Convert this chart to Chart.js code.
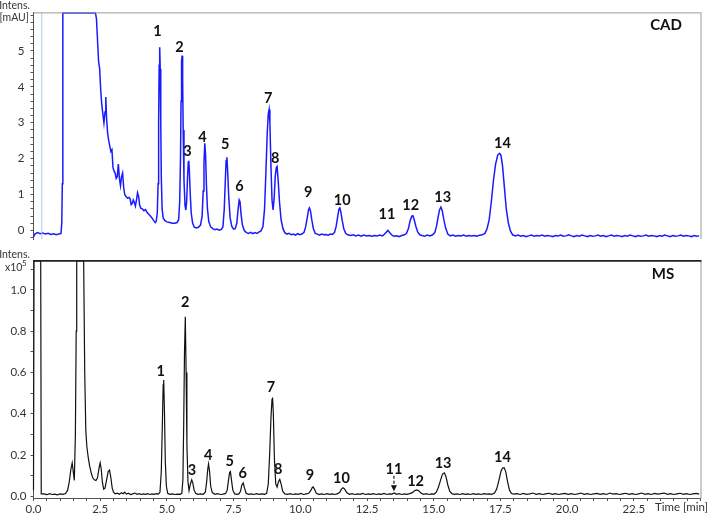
<!DOCTYPE html>
<html>
<head>
<meta charset="utf-8">
<script src="https://cdn.jsdelivr.net/npm/chart.js@4.4.1/dist/chart.umd.min.js"></script>
<style>
  html, body { margin: 0; padding: 0; background: #fff; }
  #wrap { position: relative; width: 710px; height: 515px; }
  .panel { position: absolute; left: 0; width: 710px; }
  #cadBox { top: 0; height: 252px; }
  #msBox { top: 250px; height: 265px; }
</style>
</head>
<body>
<div id="wrap">
  <div class="panel" id="cadBox"><canvas id="cad"></canvas></div>
  <div class="panel" id="msBox"><canvas id="ms"></canvas></div>
</div>
<script>
// CAD trace, [time (min), intensity (mAU)]
const cadTrace = [
  [0.00,-0.18],[0.05,-0.10],[0.15,-0.06],[0.25,-0.09],[0.35,-0.07],[0.45,-0.10],[0.55,-0.08],[0.65,-0.11],
  [0.75,-0.09],[0.85,-0.12],[0.95,-0.10],[1.03,-0.08],[1.06,0.2],[1.08,1.3],[1.10,6.06],[2.32,6.06],
  [2.36,5.9],[2.40,5.3],[2.44,4.7],[2.48,4.5],[2.52,3.9],[2.56,3.5],[2.60,3.25],[2.64,3.0],
  [2.68,3.3],[2.71,3.72],[2.74,3.1],[2.78,2.7],[2.82,2.5],[2.86,2.35],[2.90,2.2],[2.94,2.25],
  [2.98,1.75],[3.02,1.65],[3.06,1.6],[3.10,1.45],[3.14,1.5],[3.18,1.85],[3.22,1.45],[3.26,1.25],
  [3.30,1.5],[3.34,1.6],[3.38,1.2],[3.42,1.0],[3.46,0.95],[3.52,0.9],[3.58,0.92],[3.62,0.88],
  [3.66,0.72],[3.70,0.75],[3.74,0.85],[3.78,0.78],[3.82,0.68],[3.86,0.85],[3.90,1.05],[3.94,0.95],
  [3.98,0.7],[4.02,0.62],[4.08,0.6],[4.14,0.55],[4.20,0.58],[4.26,0.5],[4.32,0.45],[4.38,0.4],
  [4.44,0.35],[4.50,0.28],[4.56,0.22],[4.60,0.25],[4.64,0.5],[4.67,1.3],[4.69,3.0],[4.71,4.6],
  [4.73,5.1],[4.75,4.5],[4.77,3.0],[4.79,1.5],[4.82,0.6],[4.86,0.35],[4.92,0.28],[5.00,0.24],
  [5.10,0.22],[5.20,0.20],[5.30,0.20],[5.38,0.22],[5.44,0.3],[5.48,0.8],[5.51,2.0],[5.53,3.6],
  [5.55,4.7],[5.57,4.87],[5.59,4.2],[5.61,2.8],[5.64,1.4],[5.68,0.7],[5.71,0.57],[5.74,0.8],
  [5.77,1.4],[5.80,1.9],[5.82,1.94],[5.84,1.7],[5.87,1.1],[5.91,0.5],[5.96,0.22],[6.02,0.1],
  [6.10,0.07],[6.18,0.09],[6.26,0.15],[6.32,0.4],[6.36,1.1],[6.39,1.9],[6.42,2.43],[6.45,2.1],
  [6.48,1.3],[6.52,0.6],[6.57,0.25],[6.64,0.1],[6.72,0.05],[6.80,0.02],[6.88,0.04],[6.96,0.01],
  [7.04,0.03],[7.10,0.1],[7.15,0.6],[7.19,1.4],[7.22,1.95],[7.25,2.04],[7.28,1.6],[7.32,0.9],
  [7.37,0.35],[7.43,0.12],[7.50,0.04],[7.56,0.05],[7.62,0.2],[7.67,0.6],[7.71,0.85],[7.74,0.8],
  [7.78,0.45],[7.83,0.15],[7.90,0.0],[7.98,-0.06],[8.06,-0.08],[8.14,-0.05],[8.22,-0.09],[8.30,-0.06],
  [8.38,-0.08],[8.46,-0.04],[8.52,-0.02],[8.60,0.1],[8.66,0.6],[8.71,1.6],[8.76,2.7],[8.80,3.25],
  [8.83,3.37],[8.86,3.0],[8.90,1.8],[8.94,0.85],[8.98,0.57],[9.02,0.9],[9.06,1.5],[9.10,1.75],
  [9.13,1.78],[9.17,1.4],[9.22,0.8],[9.28,0.3],[9.35,0.05],[9.42,-0.06],[9.50,-0.10],[9.58,-0.08],
  [9.66,-0.12],[9.74,-0.10],[9.82,-0.13],[9.90,-0.09],[9.98,-0.12],[10.06,-0.10],[10.14,-0.05],[10.20,0.1],
  [10.26,0.35],[10.31,0.58],[10.34,0.63],[10.38,0.55],[10.43,0.3],[10.49,0.05],[10.56,-0.08],[10.64,-0.10],
  [10.72,-0.13],[10.80,-0.10],[10.88,-0.12],[10.96,-0.11],[11.04,-0.13],[11.12,-0.10],[11.20,-0.11],[11.28,-0.06],
  [11.34,0.1],[11.40,0.38],[11.45,0.6],[11.48,0.63],[11.52,0.52],[11.57,0.28],[11.63,0.05],[11.70,-0.08],
  [11.78,-0.12],[11.88,-0.14],[11.98,-0.12],[12.08,-0.15],[12.18,-0.13],[12.28,-0.16],[12.38,-0.13],[12.48,-0.15],
  [12.58,-0.14],[12.68,-0.16],[12.78,-0.14],[12.88,-0.15],[12.98,-0.13],[13.08,-0.15],[13.16,-0.10],[13.23,-0.04],
  [13.28,0.0],[13.34,-0.05],[13.42,-0.12],[13.50,-0.16],[13.60,-0.15],[13.70,-0.17],[13.80,-0.14],[13.90,-0.12],
  [13.98,-0.08],[14.05,0.05],[14.12,0.28],[14.18,0.4],[14.22,0.41],[14.27,0.3],[14.33,0.12],[14.40,-0.04],
  [14.48,-0.12],[14.56,-0.14],[14.66,-0.16],[14.76,-0.13],[14.86,-0.15],[14.96,-0.12],[15.04,-0.06],[15.10,0.1],
  [15.16,0.35],[15.22,0.58],[15.27,0.65],[15.32,0.55],[15.38,0.3],[15.45,0.06],[15.53,-0.10],[15.62,-0.15],
  [15.72,-0.13],[15.82,-0.16],[15.92,-0.14],[16.02,-0.15],[16.12,-0.13],[16.22,-0.16],[16.32,-0.14],[16.42,-0.15],
  [16.52,-0.14],[16.62,-0.16],[16.72,-0.13],[16.82,-0.12],[16.92,-0.08],[17.00,0.05],[17.08,0.3],[17.16,0.8],
  [17.24,1.4],[17.32,1.85],[17.40,2.1],[17.47,2.15],[17.52,2.1],[17.58,1.8],[17.65,1.2],[17.72,0.6],
  [17.80,0.2],[17.88,-0.02],[17.96,-0.12],[18.06,-0.15],[18.16,-0.13],[18.26,-0.16],[18.36,-0.14],[18.46,-0.17],
  [18.56,-0.15],[18.66,-0.13],[18.76,-0.16],[18.86,-0.14],[18.96,-0.15],[19.06,-0.13],[19.16,-0.16],[19.26,-0.14],
  [19.36,-0.15],[19.46,-0.17],[19.56,-0.14],[19.66,-0.15],[19.76,-0.13],[19.86,-0.16],[19.96,-0.15],[20.06,-0.12],
  [20.16,-0.15],[20.26,-0.17],[20.36,-0.14],[20.46,-0.16],[20.56,-0.13],[20.66,-0.15],[20.76,-0.17],[20.86,-0.14],
  [20.96,-0.16],[21.06,-0.15],[21.16,-0.13],[21.26,-0.16],[21.36,-0.14],[21.46,-0.17],[21.56,-0.15],[21.66,-0.13],
  [21.76,-0.16],[21.86,-0.14],[21.96,-0.15],[22.06,-0.17],[22.16,-0.14],[22.26,-0.16],[22.36,-0.13],[22.46,-0.15],
  [22.56,-0.17],[22.66,-0.14],[22.76,-0.16],[22.86,-0.15],[22.96,-0.13],[23.06,-0.16],[23.16,-0.14],[23.26,-0.15],
  [23.36,-0.17],[23.46,-0.14],[23.56,-0.16],[23.66,-0.13],[23.76,-0.15],[23.86,-0.17],[23.96,-0.14],[24.06,-0.16],
  [24.16,-0.15],[24.26,-0.13],[24.36,-0.16],[24.46,-0.14],[24.56,-0.15],[24.66,-0.17],[24.76,-0.14],[24.86,-0.16],
  [24.95,-0.15]
];

// MS trace, [time (min), intensity (x10^5)]
const msTrace = [
  [0.00,0.03],[0.02,1.14],[0.27,1.14],[0.29,0.012],[0.40,0.012],[0.50,0.008],[0.60,0.013],[0.70,0.009],
  [0.80,0.011],[0.90,0.007],[1.00,0.012],[1.10,0.010],[1.20,0.014],[1.28,0.03],[1.34,0.07],[1.40,0.13],
  [1.45,0.162],[1.49,0.12],[1.53,0.077],[1.57,0.3],[1.60,0.8],[1.62,1.14],[1.88,1.14],[1.92,0.6],
  [1.96,0.32],[2.00,0.24],[2.05,0.19],[2.10,0.15],[2.16,0.115],[2.22,0.09],[2.28,0.08],[2.34,0.077],
  [2.40,0.09],[2.46,0.14],[2.50,0.162],[2.54,0.13],[2.58,0.07],[2.63,0.035],[2.68,0.04],[2.74,0.08],
  [2.80,0.12],[2.85,0.127],[2.90,0.09],[2.95,0.04],[3.00,0.02],[3.06,0.012],[3.14,0.015],[3.22,0.010],
  [3.30,0.018],[3.36,0.013],[3.42,0.020],[3.48,0.011],[3.56,0.015],[3.64,0.009],[3.72,0.012],[3.80,0.016],
  [3.88,0.010],[3.96,0.013],[4.04,0.009],[4.12,0.012],[4.20,0.010],[4.28,0.013],[4.36,0.009],[4.44,0.012],
  [4.52,0.010],[4.60,0.013],[4.68,0.011],[4.74,0.02],[4.79,0.12],[4.83,0.35],[4.86,0.54],[4.88,0.563],
  [4.91,0.4],[4.94,0.17],[4.98,0.05],[5.03,0.015],[5.10,0.010],[5.20,0.012],[5.30,0.009],[5.40,0.011],
  [5.50,0.010],[5.56,0.015],[5.60,0.08],[5.63,0.35],[5.66,0.7],[5.69,0.869],[5.72,0.6],[5.75,0.25],
  [5.79,0.07],[5.83,0.028],[5.88,0.06],[5.93,0.08],[5.97,0.065],[6.02,0.03],[6.08,0.015],[6.16,0.010],
  [6.26,0.012],[6.36,0.010],[6.44,0.02],[6.49,0.07],[6.53,0.13],[6.56,0.157],[6.60,0.12],[6.64,0.05],
  [6.70,0.018],[6.80,0.010],[6.90,0.013],[7.00,0.009],[7.10,0.011],[7.20,0.014],[7.26,0.03],[7.31,0.08],
  [7.35,0.115],[7.38,0.12],[7.42,0.08],[7.47,0.03],[7.54,0.012],[7.62,0.010],[7.70,0.012],[7.76,0.025],
  [7.81,0.055],[7.86,0.065],[7.91,0.04],[7.97,0.015],[8.06,0.010],[8.16,0.012],[8.26,0.009],[8.36,0.013],
  [8.46,0.010],[8.56,0.012],[8.66,0.010],[8.74,0.015],[8.80,0.06],[8.85,0.2],[8.90,0.38],[8.94,0.47],
  [8.96,0.478],[8.99,0.4],[9.03,0.18],[9.08,0.06],[9.13,0.045],[9.18,0.07],[9.23,0.082],[9.28,0.06],
  [9.34,0.025],[9.42,0.012],[9.52,0.010],[9.62,0.013],[9.72,0.009],[9.82,0.012],[9.92,0.010],[10.02,0.014],
  [10.12,0.009],[10.22,0.012],[10.32,0.015],[10.40,0.03],[10.45,0.043],[10.48,0.046],[10.53,0.035],[10.60,0.015],
  [10.70,0.010],[10.80,0.012],[10.90,0.009],[11.00,0.013],[11.10,0.010],[11.20,0.012],[11.30,0.009],[11.40,0.013],
  [11.48,0.02],[11.54,0.035],[11.60,0.042],[11.66,0.036],[11.74,0.018],[11.84,0.010],[11.94,0.013],[12.04,0.009],
  [12.14,0.012],[12.24,0.010],[12.34,0.014],[12.44,0.009],[12.54,0.012],[12.64,0.010],[12.74,0.013],[12.84,0.009],
  [12.94,0.012],[13.04,0.010],[13.14,0.014],[13.24,0.009],[13.34,0.012],[13.44,0.011],[13.52,0.016],[13.60,0.010],
  [13.70,0.013],[13.80,0.009],[13.90,0.012],[14.00,0.010],[14.10,0.013],[14.20,0.018],[14.28,0.027],[14.36,0.031],
  [14.44,0.027],[14.52,0.016],[14.62,0.010],[14.72,0.013],[14.82,0.009],[14.92,0.012],[15.02,0.011],[15.10,0.02],
  [15.18,0.045],[15.26,0.08],[15.33,0.108],[15.40,0.114],[15.46,0.095],[15.53,0.055],[15.60,0.025],[15.68,0.013],
  [15.78,0.010],[15.88,0.012],[15.98,0.009],[16.08,0.013],[16.18,0.010],[16.28,0.012],[16.38,0.009],[16.48,0.013],
  [16.58,0.010],[16.68,0.012],[16.78,0.009],[16.88,0.013],[16.98,0.011],[17.08,0.012],[17.18,0.010],[17.28,0.016],
  [17.36,0.035],[17.44,0.075],[17.52,0.12],[17.58,0.137],[17.64,0.139],[17.70,0.12],[17.77,0.07],[17.84,0.03],
  [17.92,0.014],[18.00,0.011],[18.12,0.013],[18.24,0.009],[18.36,0.014],[18.48,0.010],[18.60,0.012],[18.72,0.016],
  [18.84,0.010],[18.96,0.013],[19.08,0.009],[19.20,0.012],[19.32,0.015],[19.44,0.010],[19.56,0.013],[19.68,0.009],
  [19.80,0.012],[19.92,0.014],[20.04,0.010],[20.16,0.013],[20.28,0.009],[20.40,0.012],[20.52,0.016],[20.64,0.010],
  [20.76,0.013],[20.88,0.009],[21.00,0.012],[21.12,0.014],[21.24,0.010],[21.36,0.013],[21.48,0.009],[21.60,0.016],
  [21.72,0.011],[21.84,0.013],[21.96,0.009],[22.08,0.012],[22.20,0.015],[22.32,0.010],[22.44,0.013],[22.56,0.009],
  [22.68,0.012],[22.80,0.016],[22.92,0.010],[23.04,0.013],[23.16,0.009],[23.28,0.014],[23.40,0.011],[23.52,0.013],
  [23.64,0.016],[23.76,0.010],[23.88,0.013],[24.00,0.009],[24.12,0.012],[24.24,0.015],[24.36,0.010],[24.48,0.013],
  [24.60,0.009],[24.72,0.012],[24.84,0.014],[24.95,0.011]
];

const peakNames = ['1','2','3','4','5','6','7','8','9','10','11','12','13','14'];
// where each number sits, in [time, intensity] of its own panel
const cadLabelAt = [
  [4.65,5.55],[5.47,5.11],[5.77,2.20],[6.33,2.59],[7.19,2.41],[7.72,1.23],[8.80,3.67],
  [9.06,2.02],[10.30,1.05],[11.57,0.84],[13.25,0.46],[14.14,0.69],[15.34,0.92],[17.58,2.43]
];
const msLabelAt = [
  [4.77,0.603],[5.69,0.937],[5.94,0.124],[6.55,0.200],[7.35,0.170],[7.84,0.113],[8.90,0.529],
  [9.17,0.131],[10.36,0.100],[11.54,0.085],[13.51,0.131],[14.32,0.075],[15.35,0.162],[17.58,0.188]
];
const msArrowTime = 13.51;
const injectionMark = 0.31;

const timeMin = 0, timeMax = 25;
const cadMin = -0.24, cadMax = 6.06;
const msMin = -0.008, msMax = 1.14;

const FONT = 'Lato, "Open Sans", sans-serif';
const axisColor = '#555';
const textColor = '#333';

const near = (v, step) => Math.abs(v / step - Math.round(v / step)) < 1e-6;

function toPoints(trace) {
  return trace.map(p => ({ x: p[0], y: p[1] }));
}

function framePlugin(topColor, topWidth) {
  return {
    id: 'frame',
    afterDatasetsDraw(chart) {
      const { ctx, chartArea: a } = chart;
      ctx.save();
      ctx.strokeStyle = '#999';
      ctx.lineWidth = 1;
      ctx.beginPath();
      ctx.moveTo(a.right + 0.5, a.top);
      ctx.lineTo(a.right + 0.5, a.bottom);
      ctx.stroke();
      ctx.strokeStyle = topColor;
      ctx.lineWidth = topWidth;
      ctx.beginPath();
      ctx.moveTo(a.left, a.top);
      ctx.lineTo(a.right + 1, a.top);
      ctx.stroke();
      ctx.restore();
    }
  };
}

function labelPlugin(labelAt, panelName, panelPos) {
  return {
    id: 'peakLabels',
    afterDraw(chart) {
      const { ctx } = chart;
      const xs = chart.scales.x, ys = chart.scales.y;
      ctx.save();
      ctx.fillStyle = '#111';
      ctx.font = 'bold 14.5px ' + FONT;
      ctx.textAlign = 'center';
      ctx.textBaseline = 'middle';
      labelAt.forEach((p, i) => {
        ctx.fillText(peakNames[i], xs.getPixelForValue(p[0]), ys.getPixelForValue(p[1]));
      });
      ctx.font = 'bold 15px ' + FONT;
      ctx.fillText(panelName, panelPos[0], panelPos[1]);
      ctx.restore();
    }
  };
}

// --- CAD panel ---
new Chart(document.getElementById('cad'), {
  type: 'line',
  data: {
    datasets: [
      {
        data: [{ x: injectionMark, y: cadMin }, { x: injectionMark, y: cadMax }],
        borderColor: '#a9cdf2', borderWidth: 1, pointRadius: 0
      },
      {
        data: toPoints(cadTrace),
        borderColor: '#1a1aff', borderWidth: 1.5, pointRadius: 0, tension: 0, clip: 2
      }
    ]
  },
  options: {
    responsive: true, maintainAspectRatio: false, animation: false,
    layout: { padding: { top: 3, right: 9.5, bottom: 3, left: 0 } },
    plugins: { legend: { display: false }, tooltip: { enabled: false } },
    scales: {
      x: { type: 'linear', min: timeMin, max: timeMax, display: false },
      y: {
        min: cadMin, max: cadMax,
        afterFit: s => { s.width = 33.5; },
        border: { color: axisColor },
        grid: { drawOnChartArea: false, tickLength: 3, color: axisColor },
        ticks: {
          stepSize: 0.2, includeBounds: false, autoSkip: false, padding: 6,
          color: textColor, font: { family: FONT, size: 11.5 },
          callback: v => (near(v, 1) && v >= 0 && v <= 5) ? String(Math.round(v)) : ''
        }
      }
    }
  },
  plugins: [
    framePlugin('#999', 1),
    labelPlugin(cadLabelAt, 'CAD', [666, 25]),
    {
      id: 'cadTitle',
      afterDraw(chart) {
        const ctx = chart.ctx;
        ctx.save();
        ctx.fillStyle = textColor;
        ctx.font = '10.5px ' + FONT;
        ctx.textAlign = 'right';
        ctx.textBaseline = 'middle';
        ctx.fillText('Intens.', 30, 6);
        ctx.fillText('[mAU]', 29, 18);
        ctx.restore();
      }
    }
  ]
});

// --- MS panel ---
new Chart(document.getElementById('ms'), {
  type: 'line',
  data: {
    datasets: [
      {
        data: toPoints(msTrace),
        borderColor: '#111', borderWidth: 1.2, pointRadius: 0, tension: 0, clip: 2
      }
    ]
  },
  options: {
    responsive: true, maintainAspectRatio: false, animation: false,
    layout: { padding: { top: 1, right: 9.5, bottom: 0, left: 0 } },
    plugins: { legend: { display: false }, tooltip: { enabled: false } },
    scales: {
      x: {
        type: 'linear', min: timeMin, max: timeMax,
        afterFit: s => { s.height = 17; },
        border: { color: axisColor },
        grid: { drawOnChartArea: false, tickLength: 3, color: axisColor },
        ticks: {
          stepSize: 0.5, includeBounds: false, autoSkip: false, maxRotation: 0, padding: 1,
          color: textColor, font: { family: FONT, size: 11.5 },
          callback: v => (near(v, 2.5) && v < 24) ? v.toFixed(1) : ''
        }
      },
      y: {
        min: msMin, max: msMax,
        afterFit: s => { s.width = 33.5; },
        border: { color: axisColor },
        grid: { drawOnChartArea: false, tickLength: 3, color: axisColor },
        ticks: {
          stepSize: 0.1, includeBounds: false, autoSkip: false, padding: 4,
          color: textColor, font: { family: FONT, size: 11.5 },
          callback: v => (near(v, 0.2) && v >= 0 && v <= 1.0001) ? v.toFixed(1) : ''
        }
      }
    }
  },
  plugins: [
    framePlugin('#222', 1.6),
    labelPlugin(msLabelAt, 'MS', [663, 24]),
    {
      id: 'msExtras',
      afterDraw(chart) {
        const ctx = chart.ctx;
        const xs = chart.scales.x, ys = chart.scales.y;
        ctx.save();
        ctx.fillStyle = textColor;
        ctx.font = '10.5px ' + FONT;
        ctx.textBaseline = 'middle';
        ctx.textAlign = 'right';
        ctx.fillText('Intens.', 30, 5);
        ctx.textAlign = 'left';
        ctx.fillText('x10', 5, 18);
        ctx.font = '8px ' + FONT;
        ctx.fillText('5', 22, 13);
        ctx.font = '11.5px ' + FONT;
        ctx.textAlign = 'right';
        ctx.fillText('Time [min]', 708, 257);
        // dashed pointer under peak 11
        const ax = xs.getPixelForValue(msArrowTime);
        const y0 = ys.getPixelForValue(0.1), y1 = ys.getPixelForValue(0.03);
        ctx.strokeStyle = '#111';
        ctx.lineWidth = 1.2;
        ctx.setLineDash([3, 2]);
        ctx.beginPath();
        ctx.moveTo(ax, y0);
        ctx.lineTo(ax, y1 - 3);
        ctx.stroke();
        ctx.setLineDash([]);
        ctx.fillStyle = '#111';
        ctx.beginPath();
        ctx.moveTo(ax - 3, y1 - 5);
        ctx.lineTo(ax + 3, y1 - 5);
        ctx.lineTo(ax, y1 + 1);
        ctx.closePath();
        ctx.fill();
        ctx.restore();
      }
    }
  ]
});
</script>
</body>
</html>
